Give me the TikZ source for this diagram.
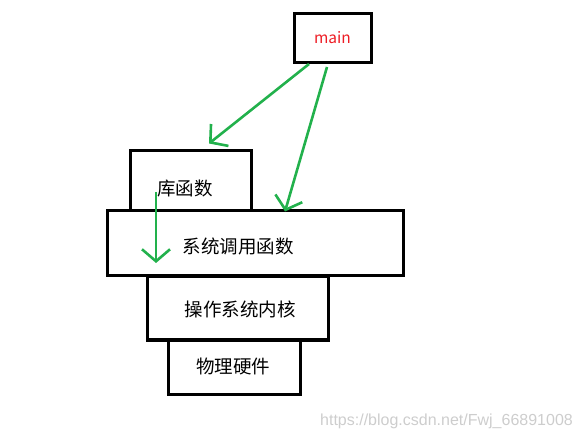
\documentclass[tikz,border=0pt]{standalone}
\usepackage{fontspec}
\setmainfont{Noto Sans CJK SC}
\newfontfamily\wmfont{Liberation Sans}
\usetikzlibrary{arrows.meta}
\definecolor{pgreen}{RGB}{34,177,76}
\definecolor{pred}{RGB}{237,28,36}
\definecolor{wmgray}{RGB}{205,205,205}
\tikzset{
  box/.style={draw=black, line width=3pt, inner sep=0pt, font=\fontsize{18.5}{20}\selectfont},
  garrow/.style={draw=pgreen, line width=2.6pt, -{Straight Barb[length=12pt,width=28pt,line width=2.6pt]}},
  lbl/.style={inner sep=0pt, font=\fontsize{18.5}{20}\selectfont}
}
\begin{document}
\begin{tikzpicture}[x=1pt,y=-1pt]
\useasboundingbox (0,0) rectangle (581,438);
\node[box, minimum width=77pt, minimum height=49pt, text=pred, font=\fontsize{15.5}{17}\selectfont] (main) at (332.5,38) {main};
\node[box, minimum width=121pt, minimum height=60pt] (lib) at (190.5,181) {};
\node[lbl] (libt) at (185,189) {库函数};
\node[box, minimum width=296pt, minimum height=65pt] (sys) at (255,243.5) {};
\node[lbl] (syst) at (238,246) {系统调用函数};
\node[box, minimum width=181pt, minimum height=63pt] (os) at (237.5,308.5) {};
\node[lbl] (ost) at (240,309) {操作系统内核};
\node[box, minimum width=132pt, minimum height=54pt] (hw) at (234,367) {};
\node[lbl] (hwt) at (233,366) {物理硬件};
\node[anchor=west, inner sep=0pt, text=wmgray, font=\wmfont\fontsize{16}{18}\selectfont] (wm) at (320,421) {https://blog.csdn.net/Fwj\_66891008};
\draw[garrow] ([xshift=-23.5pt]main.south) -- ([xshift=18.5pt,yshift=6pt]lib.north);
\draw[garrow] ([xshift=-5.5pt,yshift=-3pt]main.south) -- ([xshift=30pt,yshift=-2pt]sys.north);
\draw[garrow] ([xshift=-34.5pt,yshift=-11pt]lib.center) -- ([xshift=-99pt,yshift=-19.5pt]sys.center);
\end{tikzpicture}
\end{document}
